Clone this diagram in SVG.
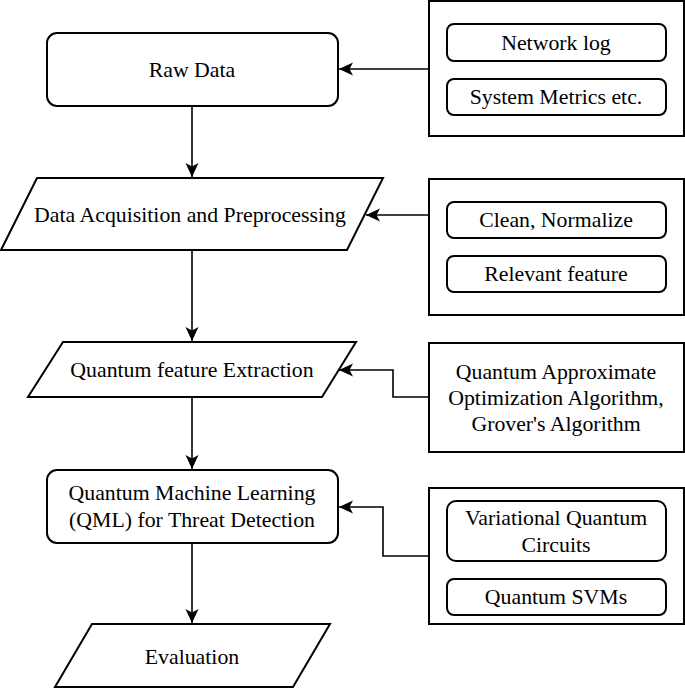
<svg xmlns="http://www.w3.org/2000/svg" width="685" height="689" viewBox="0 0 685 689">
<style>
.s{fill:#fff;stroke:#000;stroke-width:2}
.t{font-size:21.8px;fill:#000;text-anchor:middle}
.c{fill:none;stroke:#000;stroke-width:1.6}
</style>
<defs>
<marker id="a" markerUnits="userSpaceOnUse" markerWidth="16" markerHeight="16" viewBox="0 0 16 16" refX="15" refY="8" orient="auto">
<path d="M1,1.5 L15,8 L1,14.5 L4.5,8 z" fill="#000"/>
</marker>
</defs>
<rect width="685" height="689" fill="#fff"/>
<g id="connectors">
<path class="c" d="M192,106 V177" marker-end="url(#a)"/>
<path class="c" d="M192,250 V341" marker-end="url(#a)"/>
<path class="c" d="M192,397 V469" marker-end="url(#a)"/>
<path class="c" d="M192,543 V623" marker-end="url(#a)"/>
<path class="c" d="M429,69 H339" marker-end="url(#a)"/>
<path class="c" d="M429,215 H366" marker-end="url(#a)"/>
<path class="c" d="M429,397 H393 V370 H339" marker-end="url(#a)"/>
<path class="c" d="M429,556 H383 V507 H339" marker-end="url(#a)"/>
</g>
<g font-family="Liberation Serif">
<g id="raw-data">
<rect class="s" x="47" y="33" width="291" height="73" rx="10"/>
<text class="t" x="192" y="77" font-family="Liberation Serif">Raw Data</text>
</g>
<g id="data-acquisition">
<polygon class="s" points="37,178 383,178 347,250 1,250"/>
<text class="t" x="190" y="222" font-family="Liberation Serif">Data Acquisition and Preprocessing</text>
</g>
<g id="quantum-feature-extraction">
<polygon class="s" points="63,342 356,342 322,397 28,397"/>
<text class="t" x="192" y="377" font-family="Liberation Serif">Quantum feature Extraction</text>
</g>
<g id="qml">
<rect class="s" x="47" y="470" width="291" height="73" rx="10"/>
<text class="t" x="192" y="500" font-family="Liberation Serif">Quantum Machine Learning</text>
<text class="t" x="192" y="527" font-family="Liberation Serif">(QML) for Threat Detection</text>
</g>
<g id="evaluation">
<polygon class="s" points="92,624 330,624 293,687 55,687"/>
<text class="t" x="192" y="664" font-family="Liberation Serif">Evaluation</text>
</g>
<g id="sources">
<rect class="s" x="429" y="1" width="255" height="135"/>
<rect class="s" x="447" y="24" width="219" height="37" rx="7"/>
<text class="t" x="556" y="50" font-family="Liberation Serif">Network log</text>
<rect class="s" x="447" y="79" width="219" height="36" rx="7"/>
<text class="t" x="556" y="104" font-family="Liberation Serif">System Metrics etc.</text>
</g>
<g id="preprocessing-steps">
<rect class="s" x="429" y="179" width="255" height="136"/>
<rect class="s" x="447" y="202" width="219" height="36" rx="7"/>
<text class="t" x="556" y="227" font-family="Liberation Serif">Clean, Normalize</text>
<rect class="s" x="447" y="256" width="219" height="36" rx="7"/>
<text class="t" x="556" y="281" font-family="Liberation Serif">Relevant feature</text>
</g>
<g id="quantum-algorithms">
<rect class="s" x="429" y="343" width="255" height="109"/>
<text class="t" x="556" y="379" font-family="Liberation Serif">Quantum Approximate</text>
<text class="t" x="556" y="405" font-family="Liberation Serif">Optimization Algorithm,</text>
<text class="t" x="556" y="431" font-family="Liberation Serif">Grover's Algorithm</text>
</g>
<g id="qml-methods">
<rect class="s" x="429" y="488" width="255" height="136"/>
<rect class="s" x="447" y="501" width="219" height="60" rx="9"/>
<text class="t" x="556" y="525" font-family="Liberation Serif">Variational Quantum</text>
<text class="t" x="556" y="552" font-family="Liberation Serif">Circuits</text>
<rect class="s" x="447" y="579" width="219" height="36" rx="7"/>
<text class="t" x="556" y="604" font-family="Liberation Serif">Quantum SVMs</text>
</g>
</g>
</svg>
